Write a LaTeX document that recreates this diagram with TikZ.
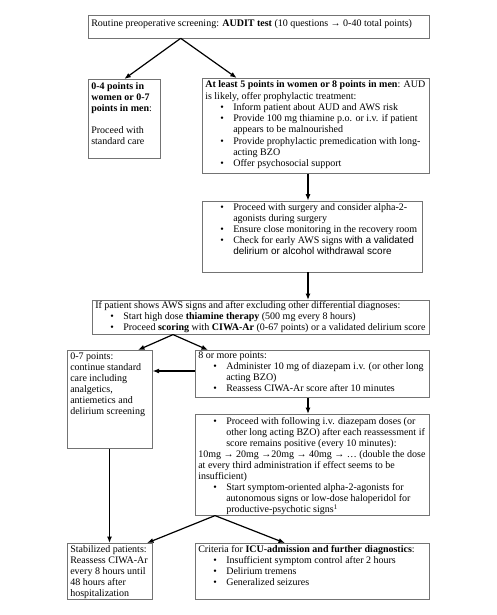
\documentclass[tikz,border=0pt]{standalone}
\usepackage{fontspec}
\setmainfont{Liberation Serif}
\newfontfamily\arialf{Liberation Sans}
\usetikzlibrary{arrows.meta}
\newcommand{\bx}[4]{\begin{minipage}[c][#2][t]{#1}\vspace*{#3}\fontsize{10}{11}\selectfont\leftskip=3pt\rightskip=0pt plus 1fil\parindent=0pt\parskip=0pt #4\par\end{minipage}}
\newcommand{\np}{\par\strut}
\newcommand{\bi}{\par\hangindent=28pt\hangafter=1\strut\hspace*{15pt}\makebox[13pt][l]{\textbullet}}
\newcommand{\ra}{\textbf{→}}
\begin{document}
\begin{tikzpicture}[x=1pt,y=-1pt,
  box/.style={draw=black!55, line width=0.6pt, inner sep=0pt, anchor=north west},
  arr/.style={line width=1.2pt, -{Latex[length=6.5pt,width=5pt]}}]
\useasboundingbox (0,0) rectangle (496,615);

\node[box] (b1) at (88,15) {\bx{341pt}{22.7pt}{3.5pt}{\np Routine preoperative screening: \textbf{AUDIT test} (10 questions \ra{} 0-40 total points)}};

\node[box] (b2l) at (88,79) {\bx{72pt}{79pt}{2.2pt}{\np\textbf{0-4 points in\\women or 0-7\\points in men}:\\\mbox{}\\Proceed with\\standard care}};

\node[box] (b2r) at (202,78) {\bx{227pt}{95pt}{1.5pt}{\fontsize{10}{11.3}\selectfont\np\textbf{At least 5 points in women or 8 points in men}: AUD\\is likely, offer prophylactic treatment:
\bi Inform patient about AUD and AWS risk
\bi Provide 100 mg thiamine p.o. or i.v. if patient\\appears to be malnourished
\bi Provide prophylactic premedication with long-\\acting BZO
\bi Offer psychosocial support}};

\node[box] (b3) at (202,200.7) {\bx{220pt}{71pt}{2.2pt}{\bi Proceed with surgery and consider alpha-2-\\agonists during surgery
\bi Ensure close monitoring in the recovery room
\bi Check for early AWS signs {\arialf with a validated\\delirium or alcohol withdrawal score}}};

\node[box] (b4) at (92,300) {\bx{337pt}{34pt}{0.9pt}{\np If patient shows AWS signs and after excluding other differential diagnoses:
\bi Start high dose \textbf{thiamine therapy} (500 mg every 8 hours)
\bi Proceed \textbf{scoring} with \textbf{CIWA-Ar} (0-67 points) or a validated delirium score}};

\node[box] (b5l) at (67,350) {\bx{85pt}{98pt}{1.9pt}{\np 0-7 points:\\continue standard\\care including\\analgetics,\\antiemetics and\\delirium screening}};

\node[box] (b5r) at (195,350) {\bx{234pt}{47pt}{0.9pt}{\np 8 or more points:
\bi Administer 10 mg of diazepam i.v. (or other long\\acting BZO)
\bi Reassess CIWA-Ar score after 10 minutes}};

\node[box] (b6) at (195,414) {\bx{234pt}{101pt}{2.9pt}{\bi Proceed with following i.v. diazepam doses (or\\other long acting BZO) after each reassessment if\\score remains positive (every 10 minutes):
\np 10mg \ra{} 20mg \ra20mg \ra{} 40mg \ra{} … (double the dose\\at every third administration if effect seems to be\\insufficient)
\bi Start symptom-oriented alpha-2-agonists for\\autonomous signs or low-dose haloperidol for\\productive-psychotic signs\textsuperscript{1}}};

\node[box] (b7l) at (67,543) {\bx{85pt}{56pt}{1.2pt}{\np Stabilized patients:\\Reassess CIWA-Ar\\every 8 hours until\\48 hours after\\hospitalization}};

\node[box] (b7r) at (195,543) {\bx{234pt}{56pt}{1.2pt}{\np Criteria for \textbf{ICU-admission and further diagnostics}:
\bi Insufficient symptom control after 2 hours
\bi Delirium tremens
\bi Generalized seizures}};

% connector ends
\coordinate (x181) at (180.7,0);
\coordinate (x237) at (236.7,0);
\coordinate (x308) at (308,0);
\coordinate (x173) at (173,0);
\coordinate (x138) at (138,0);
\coordinate (x208) at (208,0);
\coordinate (x215) at (215,0);
\coordinate (x147) at (147,0);
\coordinate (x285) at (285,0);
\coordinate (x110) at (109.5,0);
\coordinate (y371) at (0,371);

\draw[arr] (b1.south -| x181) -- (b2l.north);
\draw[arr] (b1.south -| x181) -- (b2r.north -| x237);
\draw[arr] (b2r.south -| x308) -- (b3.north -| x308);
\draw[arr] (b3.south -| x308) -- (b4.north -| x308);
\draw[arr] (b4.south -| x173) -- (b5l.north -| x138);
\draw[arr] (b4.south -| x173) -- (b5r.north -| x208);
\draw[arr] (b5r.west |- y371) -- (b5l.east |- y371);
\draw[arr] (b5r.south -| x308) -- (b6.north -| x308);
\draw[arr] (b6.south -| x215) -- (b7l.north -| x147);
\draw[arr] (b6.south -| x215) -- (b7r.north -| x285);
\draw[arr] (b5l.south -| x110) -- (b7l.north -| x110);
\end{tikzpicture}
\end{document}
